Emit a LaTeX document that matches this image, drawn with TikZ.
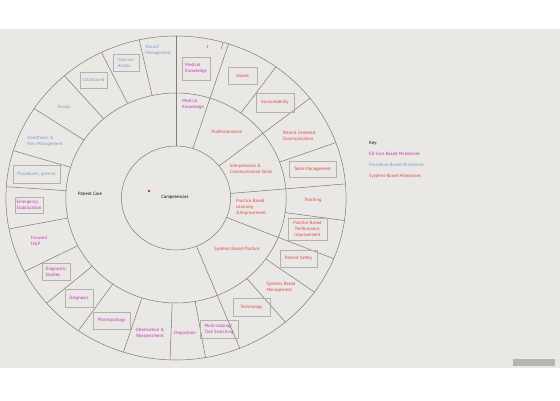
\documentclass[tikz,border=0pt]{standalone}
\usepackage{fontspec}
\setmainfont{PT Sans}
\definecolor{bgcol}{RGB}{234,232,229}
\definecolor{ringcol}{RGB}{128,124,120}
\definecolor{boxcol}{RGB}{180,177,173}
\definecolor{edcol}{RGB}{192,48,184}
\definecolor{proccol}{RGB}{118,152,206}
\definecolor{syscol}{RGB}{224,64,64}
\tikzset{
  ring/.style={draw=ringcol, line width=0.45pt},
  lbl/.style={inner sep=0pt, align=left, font=\fontsize{3.9}{5.1}\selectfont},
  edlbl/.style={lbl, text=edcol},
  proclbl/.style={lbl, text=proccol},
  syslbl/.style={lbl, text=syscol},
  boxed/.style={draw=boxcol, line width=0.3pt},
}
\begin{document}
\begin{tikzpicture}[x=0.03cm,y=-0.03cm]
  \def\Ra{52}
  \def\Rb{105}
  \def\Rc{162}
  \useasboundingbox (0,0) rectangle (560,401);
  \fill[bgcol] (0,29) rectangle (560,368);
  \begin{scope}[shift={(176,198)},xscale=1.05,yscale=-1]
    \coordinate (C) at (0,0);
    \draw[ring] (C) circle (\Ra) (C) circle (\Rb) (C) circle (\Rc);
    % spokes through both rings
    \foreach \a in {90,72,38,5,-22,-68} {\draw[ring] (\a:\Ra) -- (\a:\Rc);}
    % spokes of the outer ring
    \foreach \a in {102.5,116,131,146.5,163,176,191,207,220.5,235,252,268,280,54,20,-8,-35.5,-50}
      {\draw[ring] (\a:\Rb) -- (\a:\Rc);}
  \end{scope}
  \fill[red!70!black] (149,191) circle (1.1);
  \draw[edcol, line width=0.4pt] (207,48) -- (208,45);
  \draw[syscol, line width=0.4pt] (221,49) -- (223,43);

  % outer ring
  \node[proclbl] (wound) at (158,50) {Wound\\Management};
  \node[proclbl, boxed, minimum width=0.78cm, minimum height=0.51cm] (vascular) at (126,62.5) {Vascular\\Access};
  \node[proclbl, boxed, minimum width=0.81cm, minimum height=0.48cm] (ultrasound) at (93.5,80) {Ultrasound};
  \node[proclbl] (airway) at (64,107) {Airway};
  \node[proclbl] (anesthesia) at (45,141) {Anesthesia \&\\Pain Management};
  \node[proclbl, boxed, minimum width=1.41cm, minimum height=0.54cm] (procedures) at (36.5,174) {Procedures, general};
  \node[edlbl, boxed, minimum width=0.84cm, minimum height=0.48cm] (emergency) at (29,205) {Emergency\\Stabilization};
  \node[edlbl] (focused) at (39,241) {Focused\\H\&P};
  \node[edlbl, boxed, minimum width=0.84cm, minimum height=0.51cm] (diagstudies) at (56,271.5) {Diagnostic\\Studies};
  \node[edlbl, boxed, minimum width=0.84cm, minimum height=0.54cm] (diagnosis) at (79,298) {Diagnosis};
  \node[edlbl, boxed, minimum width=1.11cm, minimum height=0.51cm] (pharmacology) at (111.5,320.5) {Pharmacology};
  \node[edlbl, align=center] (observation) at (150,333) {Observation \&\\Reassessment};
  \node[edlbl] (disposition) at (185,333) {Disposition};
  \node[edlbl, boxed, minimum width=1.14cm, minimum height=0.54cm] (multitask) at (219,329) {Multi-tasking/\\Task Switching};
  \node[syslbl, boxed, minimum width=1.11cm, minimum height=0.54cm] (technology) at (251.5,307) {Technology};
  \node[syslbl] (sysmgmt) at (281,287) {Systems Based\\Management};
  \node[syslbl, boxed, minimum width=1.11cm, minimum height=0.51cm] (safety) at (298.5,258.5) {Patient Safety};
  \node[syslbl, boxed, align=center, minimum width=1.17cm, minimum height=0.66cm] (pbpi) at (307.5,229) {Practice Based\\Performance\\Improvement};
  \node[syslbl] (teaching) at (313,200) {Teaching};
  \node[syslbl, boxed, minimum width=1.41cm, minimum height=0.48cm] (teammgmt) at (312.5,169) {Team Management};
  \node[syslbl] (patcentered) at (299,136) {Patient Centered\\Communication};
  \node[syslbl, boxed, minimum width=1.14cm, minimum height=0.57cm] (accountability) at (275,102.5) {Accountability};
  \node[syslbl, boxed, minimum width=0.87cm, minimum height=0.51cm] (values) at (242.5,75.5) {Values};
  \node[edlbl, boxed, minimum width=0.84cm, minimum height=0.69cm] (medknowA) at (196,68.5) {Medical\\Knowledge};

  % middle ring
  \node[edlbl] (medknowB) at (193,104) {Medical\\Knowledge};
  \node[syslbl] (professionalism) at (227,132) {Professionalism};
  \node[syslbl] (interpersonal) at (251,169) {Interpersonal \&\\Communication Skills};
  \node[syslbl] (pbli) at (251,207) {Practice Based\\Learning\\\&Improvement};
  \node[syslbl] (sbp) at (237,249) {Systems Based Practice};
  \node[lbl] (patientcare) at (90,194) {Patient Care};

  % centre
  \node[lbl] (competencies) at (175,197) {Competencies};

  % key
  \node[lbl, anchor=west] (key) at (369,143) {Key:};
  \node[edlbl, anchor=west] (keyed) at (369,154) {ED Care Based Milestones};
  \node[proclbl, anchor=west] (keyproc) at (369,165) {Procedure Based Milestones};
  \node[syslbl, anchor=west] (keysys) at (369,176) {Systems-Based Milestones};

  \fill[black!22!bgcol] (513,359) rectangle (555,366);
\end{tikzpicture}
\end{document}
